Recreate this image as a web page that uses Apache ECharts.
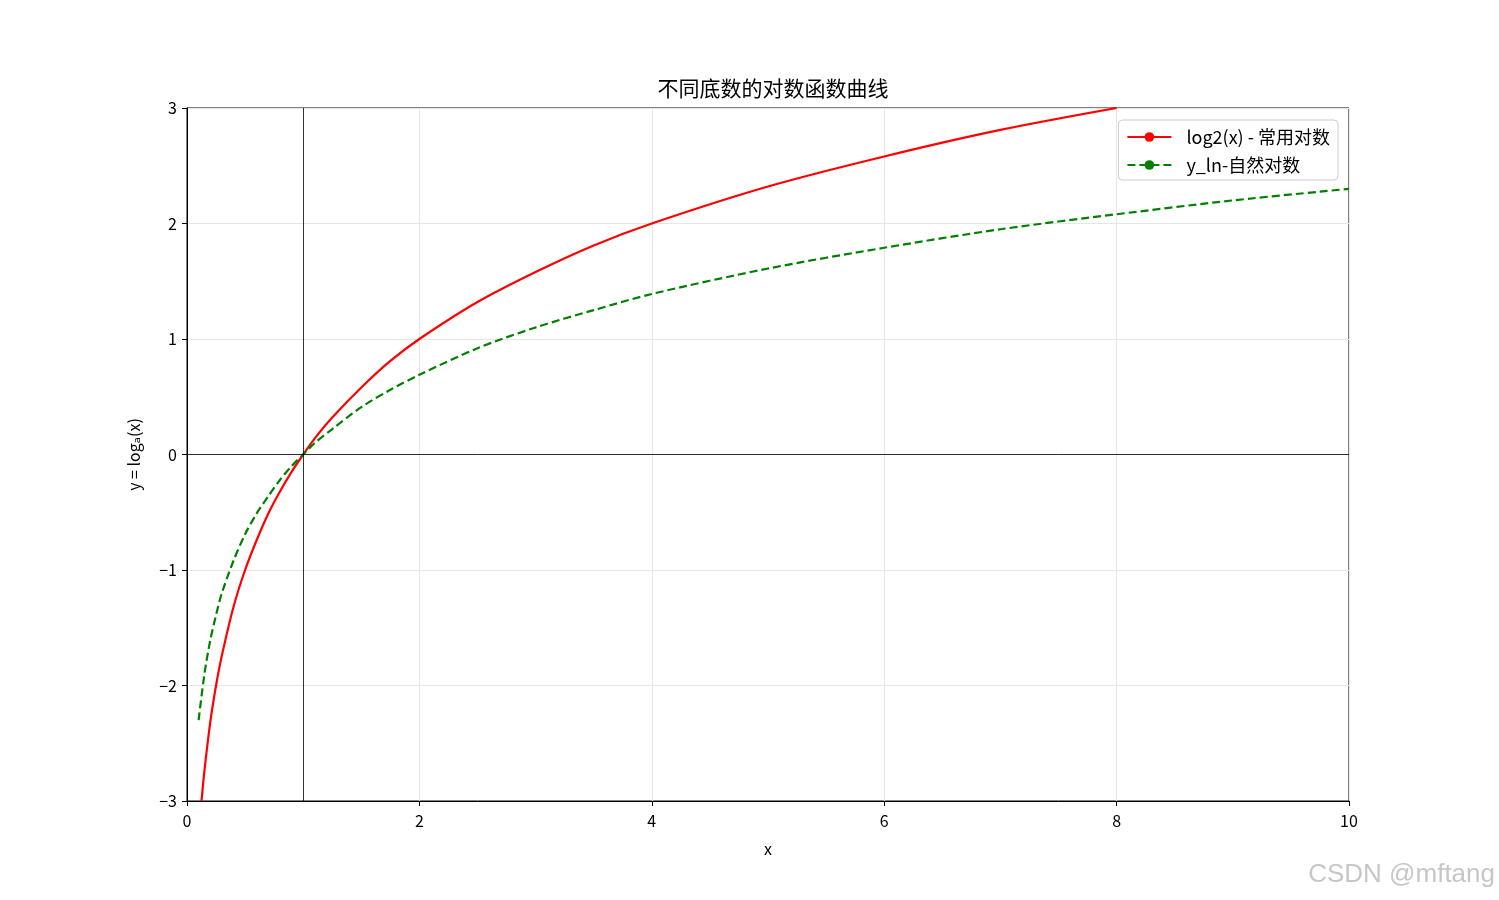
<!DOCTYPE html>
<html>
<head>
<meta charset="utf-8">
<script src="https://cdn.jsdelivr.net/npm/echarts@6/dist/echarts.min.js"></script>
<style>html,body{margin:0;padding:0;background:#fff}#chart{width:1499px;height:900px}</style>
</head>
<body>
<div id="chart"></div>
<script>
// values
var log2X = [0.125, 0.15, 0.2, 0.25, 0.3, 0.4, 0.5, 0.6, 0.7, 0.8, 0.9, 1, 1.1, 1.25, 1.5, 1.75, 2, 2.5, 3, 3.5, 4, 5, 6, 7, 8];
var log2Y = [-3, -2.74, -2.32, -2, -1.74, -1.32, -1, -0.74, -0.51, -0.32, -0.15, 0, 0.14, 0.32, 0.58, 0.81, 1, 1.32, 1.58, 1.81, 2, 2.32, 2.58, 2.81, 3];
var lnX = [0.1, 0.15, 0.2, 0.25, 0.3, 0.4, 0.5, 0.6, 0.7, 0.8, 0.9, 1, 1.1, 1.25, 1.5, 1.75, 2, 2.5, 3, 3.5, 4, 5, 6, 7, 8, 9, 10];
var lnY = [-2.3, -1.9, -1.61, -1.39, -1.2, -0.92, -0.69, -0.51, -0.36, -0.22, -0.1, 0, 0.1, 0.22, 0.41, 0.56, 0.69, 0.92, 1.1, 1.25, 1.39, 1.61, 1.79, 1.95, 2.08, 2.2, 2.3];

function pairs(xs, ys) {
  return xs.map(function (x, i) { return [x, ys[i]]; });
}

var font = '"Noto Sans CJK SC", "DejaVu Sans", sans-serif';
var axisBase = {
  axisLine: { show: true, onZero: false, lineStyle: { color: '#000' } },
  axisTick: { show: true, inside: false, length: 5, lineStyle: { color: '#000' } }
};
var chart = echarts.init(document.getElementById('chart'));
chart.setOption({
  animation: false,
  textStyle: { fontFamily: font },
  title: {
    text: '不同底数的对数函数曲线',
    left: 768, top: 73, textAlign: 'center',
    textStyle: { fontSize: 21, fontWeight: 'normal', color: '#000', fontFamily: font }
  },
  legend: {
    right: 161, top: 120, orient: 'vertical', itemGap: 10,
    itemWidth: 44, itemHeight: 12,
    borderColor: '#ccc', borderWidth: 1, borderRadius: 4, padding: [8, 8, 6, 8],
    textStyle: { fontSize: 18, color: '#000', fontFamily: font, padding: [0, 0, 0, 10] },
    data: ['log2(x) - 常用对数', 'y_ln-自然对数']
  },
  grid: {
    left: 187, right: 150, top: 108, bottom: 99,
    show: true, borderColor: '#000', borderWidth: 1
  },
  xAxis: Object.assign({
    type: 'value', min: 0, max: 10, interval: 2, name: 'x',
    nameLocation: 'middle', nameGap: 40,
    nameTextStyle: { fontSize: 16, color: '#000' },
    axisLabel: { fontSize: 16, color: '#000', margin: 12 },
    splitLine: { show: true, lineStyle: { color: '#e6e6e6' } }
  }, axisBase),
  yAxis: Object.assign({
    type: 'value', min: -3, max: 3, interval: 1, name: 'y = logₐ(x)',
    nameLocation: 'middle', nameGap: 45,
    nameTextStyle: { fontSize: 16, color: '#000' },
    axisLabel: { fontSize: 16, color: '#000', margin: 10, formatter: function (v) { return v < 0 ? '−' + (-v) : '' + v; } },
    splitLine: { show: true, lineStyle: { color: '#e6e6e6' } }
  }, axisBase),
  series: [
    {
      name: 'log2(x) - 常用对数', type: 'line', smooth: 0.3, symbol: 'none',
      data: pairs(log2X, log2Y), color: '#ff0000',
      lineStyle: { width: 2.2, color: '#ff0000' },
      markLine: {
        silent: true, symbol: 'none', label: { show: false },
        lineStyle: { color: '#000', width: 0.8, type: 'solid' },
        data: [{ xAxis: 1 }, { yAxis: 0 }]
      },
      z: 3
    },
    {
      name: 'y_ln-自然对数', type: 'line', smooth: 0.3, symbol: 'none',
      data: pairs(lnX, lnY), color: '#008000',
      lineStyle: { width: 2.2, color: '#008000', type: [8, 4] },
      z: 4
    }
  ],
  graphic: [{
    type: 'text', right: 4, bottom: 12,
    style: { text: 'CSDN @mftang', fontSize: 26, fill: 'rgba(160,160,160,0.6)', fontFamily: '"Liberation Sans", sans-serif' }
  }]
});
</script>
</body>
</html>
